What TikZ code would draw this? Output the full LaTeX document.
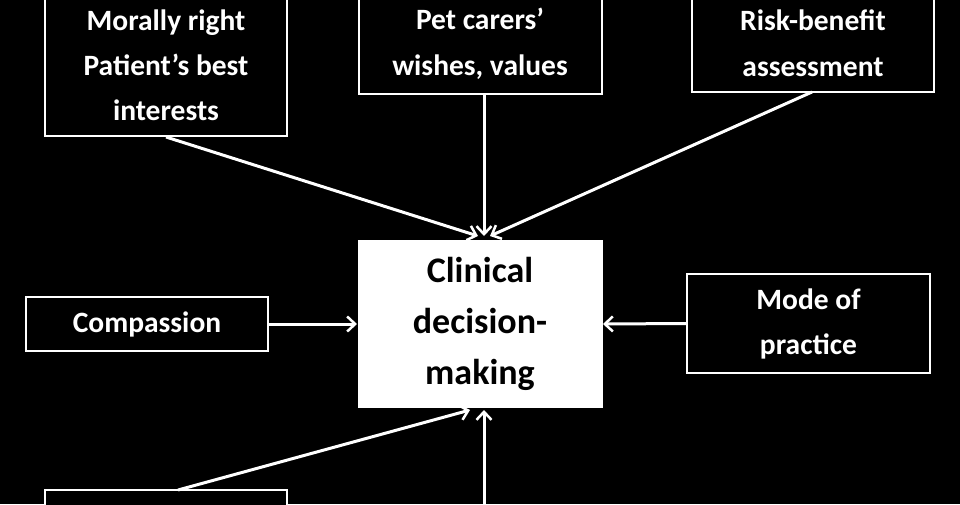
\documentclass[tikz,border=0pt]{standalone}
\usepackage{fontspec}
\setmainfont{Carlito}
\usetikzlibrary{arrows.meta}
\begin{document}
\begin{tikzpicture}[x=1pt,y=-1pt,
  box/.style={draw=white,line width=2pt,fill=black,text=white,font=\bfseries\fontsize{29.5}{45}\selectfont,align=center,inner sep=0pt},
  cbox/.style={draw=white,fill=white,text=black,font=\bfseries\fontsize{36}{51}\selectfont,align=center,inner sep=0pt},
  arr/.style={draw=white,line width=3pt,-{Straight Barb[length=8pt,width=15pt,line width=2.5pt]}}]
\fill[black] (0,0) rectangle (960,504);
\useasboundingbox (0,0) rectangle (960,504);
\clip (0,0) rectangle (960,504);
\node[box,minimum width=242pt,minimum height=146pt] (m) at (166,63) {};
\node[text=white,font=\bfseries\fontsize{29.5}{45}\selectfont,align=center] at (166,65) {Morally right\\Patient’s best\\interests};
\node[box,minimum width=243pt,minimum height=103pt] (p) at (480,42) {};
\node[text=white,font=\bfseries\fontsize{29.5}{46}\selectfont,align=center] at (480,44) {Pet carers’\\wishes, values};
\node[box,minimum width=242pt,minimum height=102pt] (r) at (813,41) {};
\node[text=white,font=\bfseries\fontsize{29.5}{46}\selectfont,align=center] at (813,43) {Risk-benefit\\assessment};
\node[cbox,minimum width=244pt,minimum height=167pt] (c) at (480,323.5) {Clinical\\decision-\\making};
\node[box,minimum width=242pt,minimum height=54pt] (cp) at (147,324) {Compassion};
\node[box,minimum width=243pt,minimum height=99pt] (mp) at (808.5,323.5) {Mode of\\practice};
\node[box,minimum width=242pt,minimum height=60pt] (b) at (166,520) {};
\coordinate (bot) at (484,520);
\draw[arr] (166,137) -- (478,236);
\draw[arr] (484,93) -- (484,236);
\draw[arr] (812,92) -- (490,236);
\draw[arr] (cp.east) -- (357,324);
\draw[arr] (mp.west) -- (603,324);
\draw[arr] (178,490) -- (470,410);
\draw[arr] (bot) -- (484,410);
\end{tikzpicture}
\end{document}
